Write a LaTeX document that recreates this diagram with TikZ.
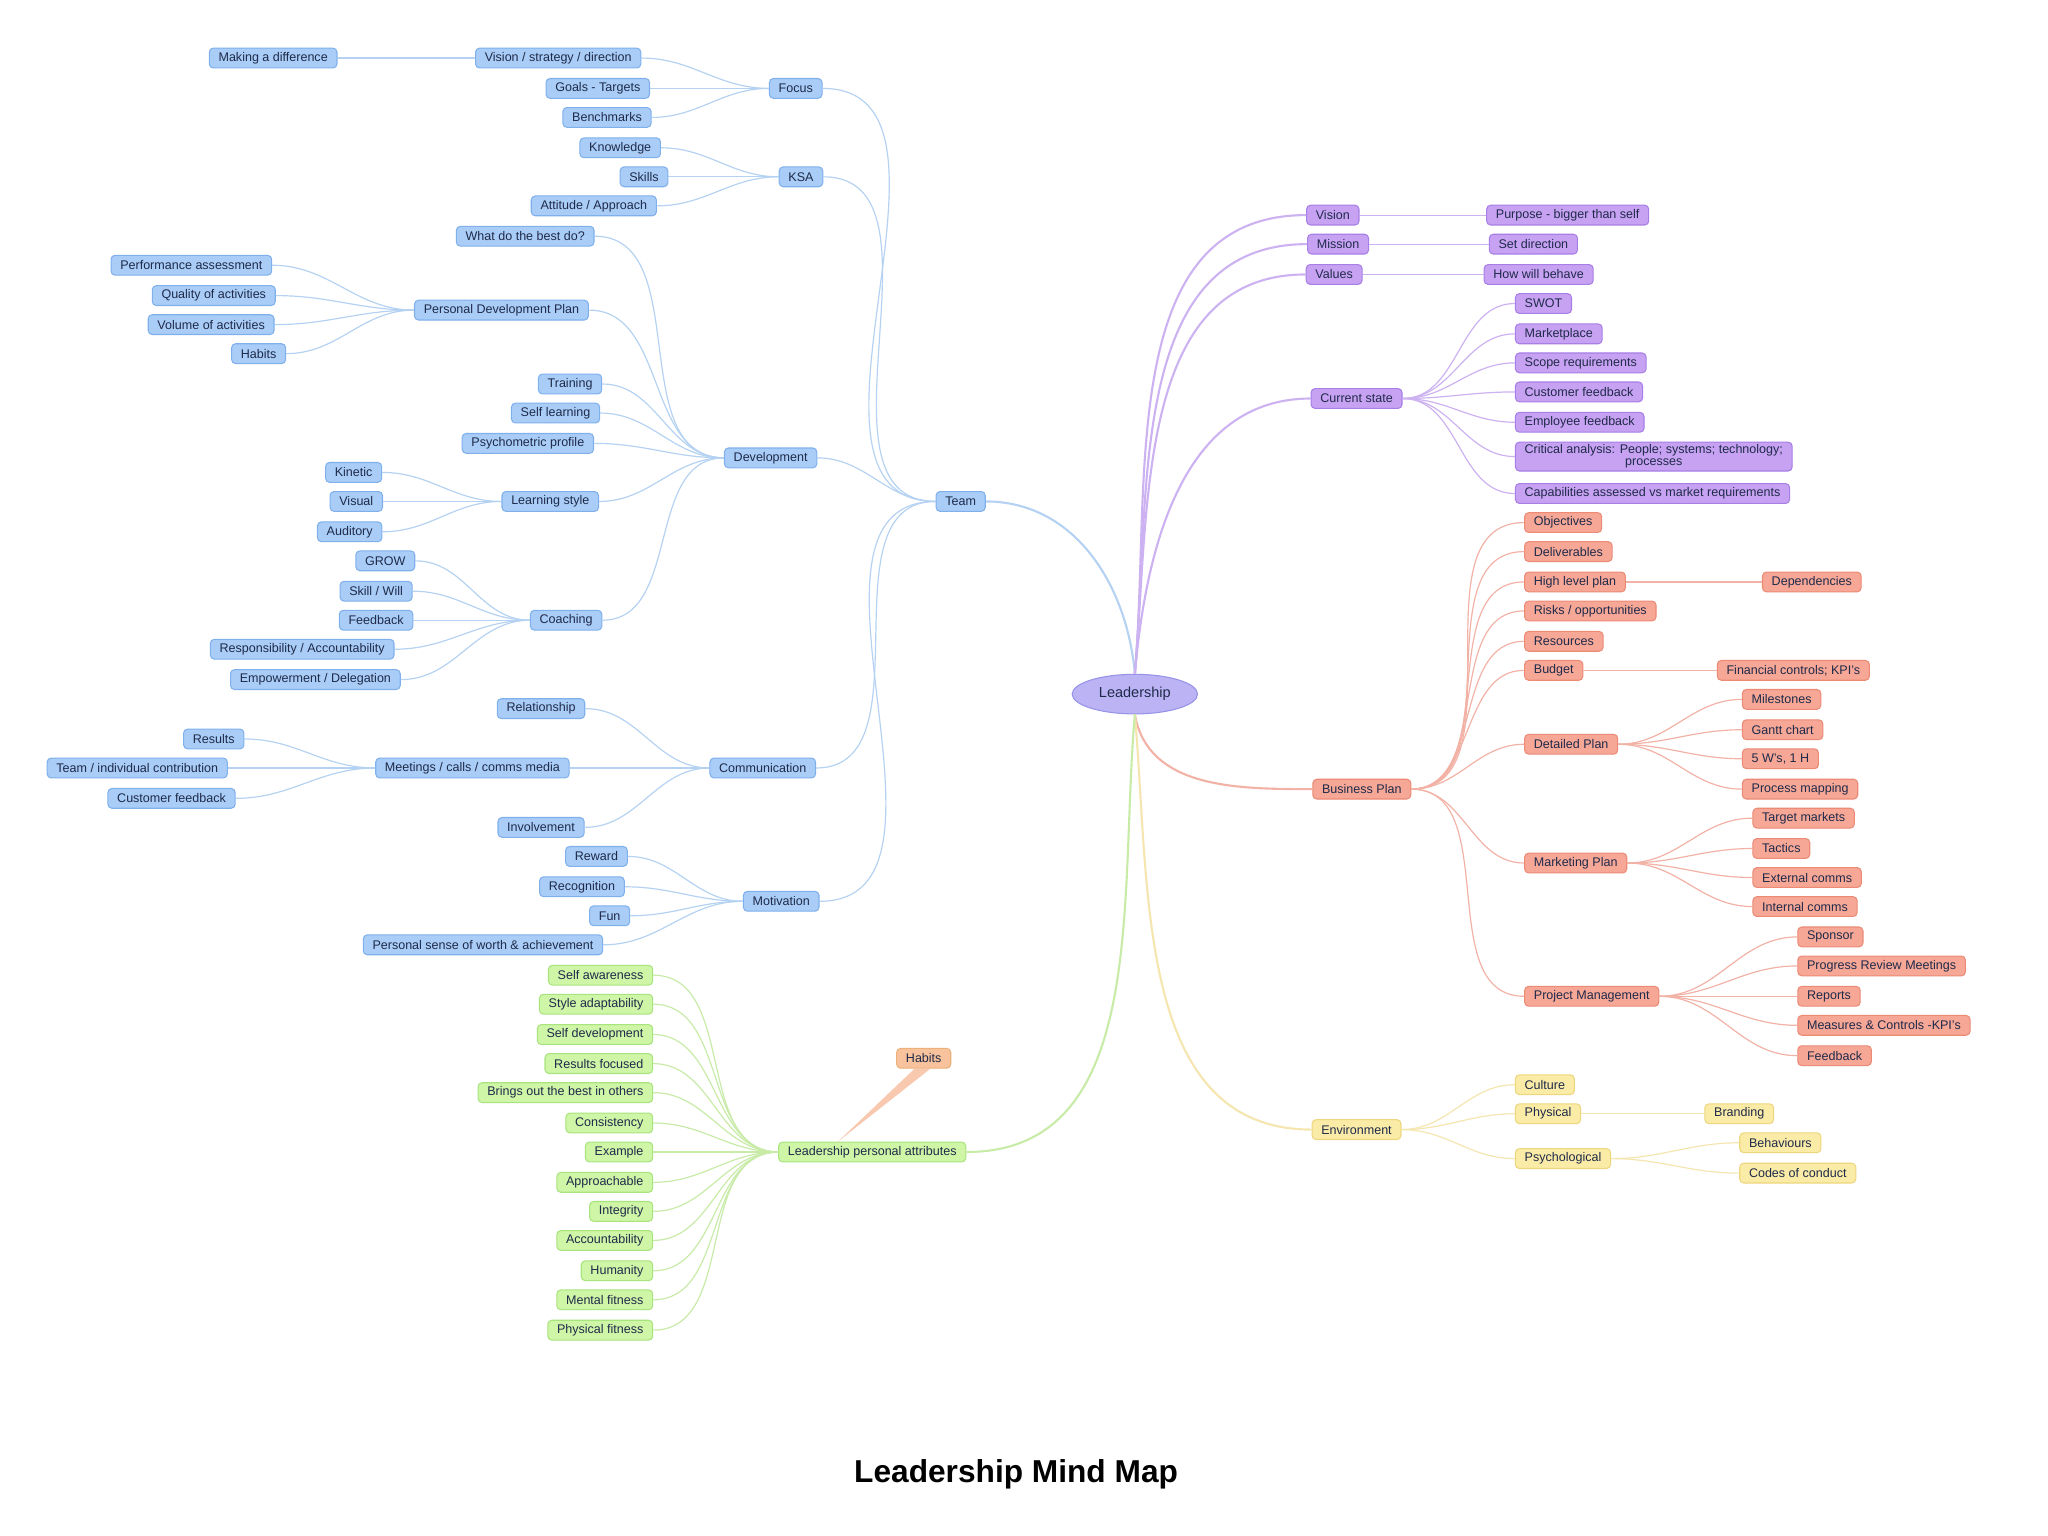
\documentclass[tikz,border=0pt]{standalone}
\usepackage{fontspec}
\setmainfont{Liberation Sans}
\usetikzlibrary{calc,shapes.geometric}
\definecolor{bF}{HTML}{A9CDF6}\definecolor{bD}{HTML}{7FB0EC}\definecolor{bL}{HTML}{B5D2F2}
\definecolor{pF}{HTML}{C7A2F2}\definecolor{pD}{HTML}{A77FE6}\definecolor{pL}{HTML}{CDB2F2}
\definecolor{sF}{HTML}{F6A796}\definecolor{sD}{HTML}{EC8A76}\definecolor{sL}{HTML}{F2B2A6}
\definecolor{yF}{HTML}{FAEBA6}\definecolor{yD}{HTML}{EDD67E}\definecolor{yL}{HTML}{F5E6B0}
\definecolor{gF}{HTML}{CFF5A6}\definecolor{gD}{HTML}{A8E47E}\definecolor{gL}{HTML}{C8EBA8}
\definecolor{tx}{HTML}{1F2A4A}
\tikzset{
 box/.style={rounded corners=3pt,inner xsep=7pt,inner ysep=2pt,minimum height=15,font=\fontsize{9.5}{10}\selectfont,text=tx,line width=0.8pt},
 bl/.style={box,fill=bF,draw=bD},
 pu/.style={box,fill=pF,draw=pD},
 sa/.style={box,fill=sF,draw=sD},
 ye/.style={box,fill=yF,draw=yD},
 gr/.style={box,fill=gF,draw=gD},
 ha/.style={box,fill=sF!60!yF,draw=sD!50!yD},
 ln/.style={line width=0.9pt},
}
\newcommand\lk[3]{\draw[ln,#1] (#2.west) to[out=180,in=0] (#3.east);}
\newcommand\rk[3]{\draw[ln,#1] (#2.east) to[out=0,in=180] (#3.west);}
\begin{document}
\begin{tikzpicture}[x=1pt,y=-1pt]
\useasboundingbox[fill=white] (0,0) rectangle (1552,1164);
% centre
\node[ellipse,fill=pF!60!bF,draw=pD!60!bD,line width=0.8pt,minimum width=95,minimum height=30,font=\fontsize{11}{12}\selectfont,text=tx] (L) at (860,526) {Leadership};
% blue
\node[bl] (team) at (728,380) {Team};
\node[bl] (focus) at (603,67) {Focus};
\node[bl] (vsd) at (423,44) {Vision / strategy / direction};
\node[bl] (gt) at (453,67) {Goals - Targets};
\node[bl] (bm) at (460,89) {Benchmarks};
\node[bl] (mad) at (207,44) {Making a difference};
\node[bl] (ksa) at (607,134) {KSA};
\node[bl] (kn) at (470,112) {Knowledge};
\node[bl] (sk) at (488,134) {Skills};
\node[bl] (aa) at (450,156) {Attitude / Approach};
\node[bl] (dev) at (584,347) {Development};
\node[bl] (wdb) at (398,179) {What do the best do?};
\node[bl] (pdp) at (380,235) {Personal Development Plan};
\node[bl] (tr) at (432,291) {Training};
\node[bl] (sl) at (421,313) {Self learning};
\node[bl] (pp) at (400,336) {Psychometric profile};
\node[bl] (ls) at (417,380) {Learning style};
\node[bl] (co) at (429,470) {Coaching};
\node[bl] (pa) at (145,201) {Performance assessment};
\node[bl] (qa) at (162,224) {Quality of activities};
\node[bl] (va) at (160,246) {Volume of activities};
\node[bl] (hb) at (196,268) {Habits};
\node[bl] (ki) at (268,358) {Kinetic};
\node[bl] (vi) at (270,380) {Visual};
\node[bl] (au) at (265,403) {Auditory};
\node[bl] (grow) at (292,425) {GROW};
\node[bl] (sw) at (285,448) {Skill / Will};
\node[bl] (fb) at (285,470) {Feedback};
\node[bl] (ra) at (229,492) {Responsibility / Accountability};
\node[bl] (ed) at (239,515) {Empowerment / Delegation};
\node[bl] (com) at (578,582) {Communication};
\node[bl] (rel) at (410,537) {Relationship};
\node[bl] (mcc) at (358,582) {Meetings / calls / comms media};
\node[bl] (inv) at (410,627) {Involvement};
\node[bl] (res) at (162,560) {Results};
\node[bl] (tic) at (104,582) {Team / individual contribution};
\node[bl] (cf) at (130,605) {Customer feedback};
\node[bl] (mot) at (592,683) {Motivation};
\node[bl] (rew) at (452,649) {Reward};
\node[bl] (rec) at (441,672) {Recognition};
\node[bl] (fun) at (462,694) {Fun};
\node[bl] (psw) at (366,716) {Personal sense of worth \& achievement};
\foreach \p/\c in {team/focus,team/ksa,team/dev,team/com,team/mot,focus/vsd,focus/gt,focus/bm,vsd/mad,ksa/kn,ksa/sk,ksa/aa,dev/wdb,dev/pdp,dev/tr,dev/sl,dev/pp,dev/ls,dev/co,pdp/pa,pdp/qa,pdp/va,pdp/hb,ls/ki,ls/vi,ls/au,co/grow,co/sw,co/fb,co/ra,co/ed,com/rel,com/mcc,com/inv,mcc/res,mcc/tic,mcc/cf,mot/rew,mot/rec,mot/fun,mot/psw}{\lk{bL}{\p}{\c}}
% green
\node[gr] (lpa) at (661,873) {Leadership personal attributes};
\foreach \n/\t/\y [count=\i] in {g1/Self awareness/739,g2/Style adaptability/761,g3/Self development/784,g4/Results focused/806,g5/Brings out the best in others/828,g6/Consistency/851,g7/Example/873,g8/Approachable/896,g9/Integrity/918,g10/Accountability/940,g11/Humanity/963,g12/Mental fitness/985,g13/Physical fitness/1008}{
 \node[gr,anchor=east] (\n) at (495,\y) {\t};
 \lk{gL}{lpa}{\n}}
\node[ha] (hab) at (700,802) {Habits};
\fill[sF!70!yF,opacity=0.8] ($(hab.south)+(-7,0)$) -- ($(hab.south)+(5,0)$) -- ($(lpa.north)+(-26,0)$) -- cycle;
% purple
\node[pu] (vis) at (1010,163) {Vision};
\node[pu] (mis) at (1014,185) {Mission};
\node[pu] (val) at (1011,208) {Values};
\node[pu] (cs) at (1028,302) {Current state};
\node[pu] (pbs) at (1188,163) {Purpose - bigger than self};
\node[pu] (sd) at (1162,185) {Set direction};
\node[pu] (hwb) at (1166,208) {How will behave};
\node[pu,anchor=west] (c1) at (1148,230) {SWOT};
\node[pu,anchor=west] (c2) at (1148,253) {Marketplace};
\node[pu,anchor=west] (c3) at (1148,275) {Scope requirements};
\node[pu,anchor=west] (c4) at (1148,297) {Customer feedback};
\node[pu,anchor=west] (c5) at (1148,320) {Employee feedback};
\node[pu,anchor=west,align=center,font=\fontsize{9.5}{9}\selectfont] (c6) at (1148,346) {Critical analysis: People; systems; technology;\\processes};
\node[pu,anchor=west] (c7) at (1148,374) {Capabilities assessed vs market requirements};
\foreach \p/\c in {vis/pbs,mis/sd,val/hwb,cs/c1,cs/c2,cs/c3,cs/c4,cs/c5,cs/c6,cs/c7}{\rk{pL}{\p}{\c}}
% salmon
\node[sa] (bp) at (1032,598) {Business Plan};
\node[sa,anchor=west] (s1) at (1155,396) {Objectives};
\node[sa,anchor=west] (s2) at (1155,418) {Deliverables};
\node[sa,anchor=west] (s3) at (1155,441) {High level plan};
\node[sa,anchor=west] (s4) at (1155,463) {Risks / opportunities};
\node[sa,anchor=west] (s5) at (1155,486) {Resources};
\node[sa,anchor=west] (s6) at (1155,508) {Budget};
\node[sa,anchor=west] (s7) at (1155,564) {Detailed Plan};
\node[sa,anchor=west] (s8) at (1155,654) {Marketing Plan};
\node[sa,anchor=west] (s9) at (1155,755) {Project Management};
\node[sa] (dep) at (1373,441) {Dependencies};
\node[sa] (fck) at (1359,508) {Financial controls; KPI's};
\node[sa,anchor=west] (d1) at (1320,530) {Milestones};
\node[sa,anchor=west] (d2) at (1320,553) {Gantt chart};
\node[sa,anchor=west] (d3) at (1320,575) {5 W's, 1 H};
\node[sa,anchor=west] (d4) at (1320,598) {Process mapping};
\node[sa,anchor=west] (m1) at (1328,620) {Target markets};
\node[sa,anchor=west] (m2) at (1328,643) {Tactics};
\node[sa,anchor=west] (m3) at (1328,665) {External comms};
\node[sa,anchor=west] (m4) at (1328,687) {Internal comms};
\node[sa,anchor=west] (p1) at (1362,710) {Sponsor};
\node[sa,anchor=west] (p2) at (1362,732) {Progress Review Meetings};
\node[sa,anchor=west] (p3) at (1362,755) {Reports};
\node[sa,anchor=west] (p4) at (1362,777) {Measures \& Controls -KPI's};
\node[sa,anchor=west] (p5) at (1362,800) {Feedback};
\foreach \p/\c in {bp/s1,bp/s2,bp/s3,bp/s4,bp/s5,bp/s6,bp/s7,bp/s8,bp/s9,s3/dep,s6/fck,s7/d1,s7/d2,s7/d3,s7/d4,s8/m1,s8/m2,s8/m3,s8/m4,s9/p1,s9/p2,s9/p3,s9/p4,s9/p5}{\rk{sL}{\p}{\c}}
% yellow
\node[ye] (env) at (1028,856) {Environment};
\node[ye,anchor=west] (cul) at (1148,822) {Culture};
\node[ye,anchor=west] (phy) at (1148,844) {Physical};
\node[ye,anchor=west] (psy) at (1148,878) {Psychological};
\node[ye] (bra) at (1318,844) {Branding};
\node[ye,anchor=west] (beh) at (1318,866) {Behaviours};
\node[ye,anchor=west] (coc) at (1318,889) {Codes of conduct};
\foreach \p/\c in {env/cul,env/phy,env/psy,phy/bra,psy/beh,psy/coc}{\rk{yL}{\p}{\c}}
% main branches
\draw[bL,line width=1.6pt] (L.north) to[out=95,in=0] (team.east);
\foreach \c in {vis,mis,val,cs}{\draw[pL,line width=1.6pt] (L.north) to[out=85,in=180] (\c.west);}
\draw[sL,line width=1.6pt] (L.south) to[out=-80,in=180] (bp.west);
\draw[yL,line width=1.6pt] (L.south) to[out=-85,in=180] (env.west);
\draw[gL,line width=1.6pt] (L.south) to[out=-95,in=0] (lpa.east);
\node[font=\bfseries\fontsize{24}{28}\selectfont] (title) at (770,1117) {Leadership Mind Map};
\end{tikzpicture}
\end{document}
